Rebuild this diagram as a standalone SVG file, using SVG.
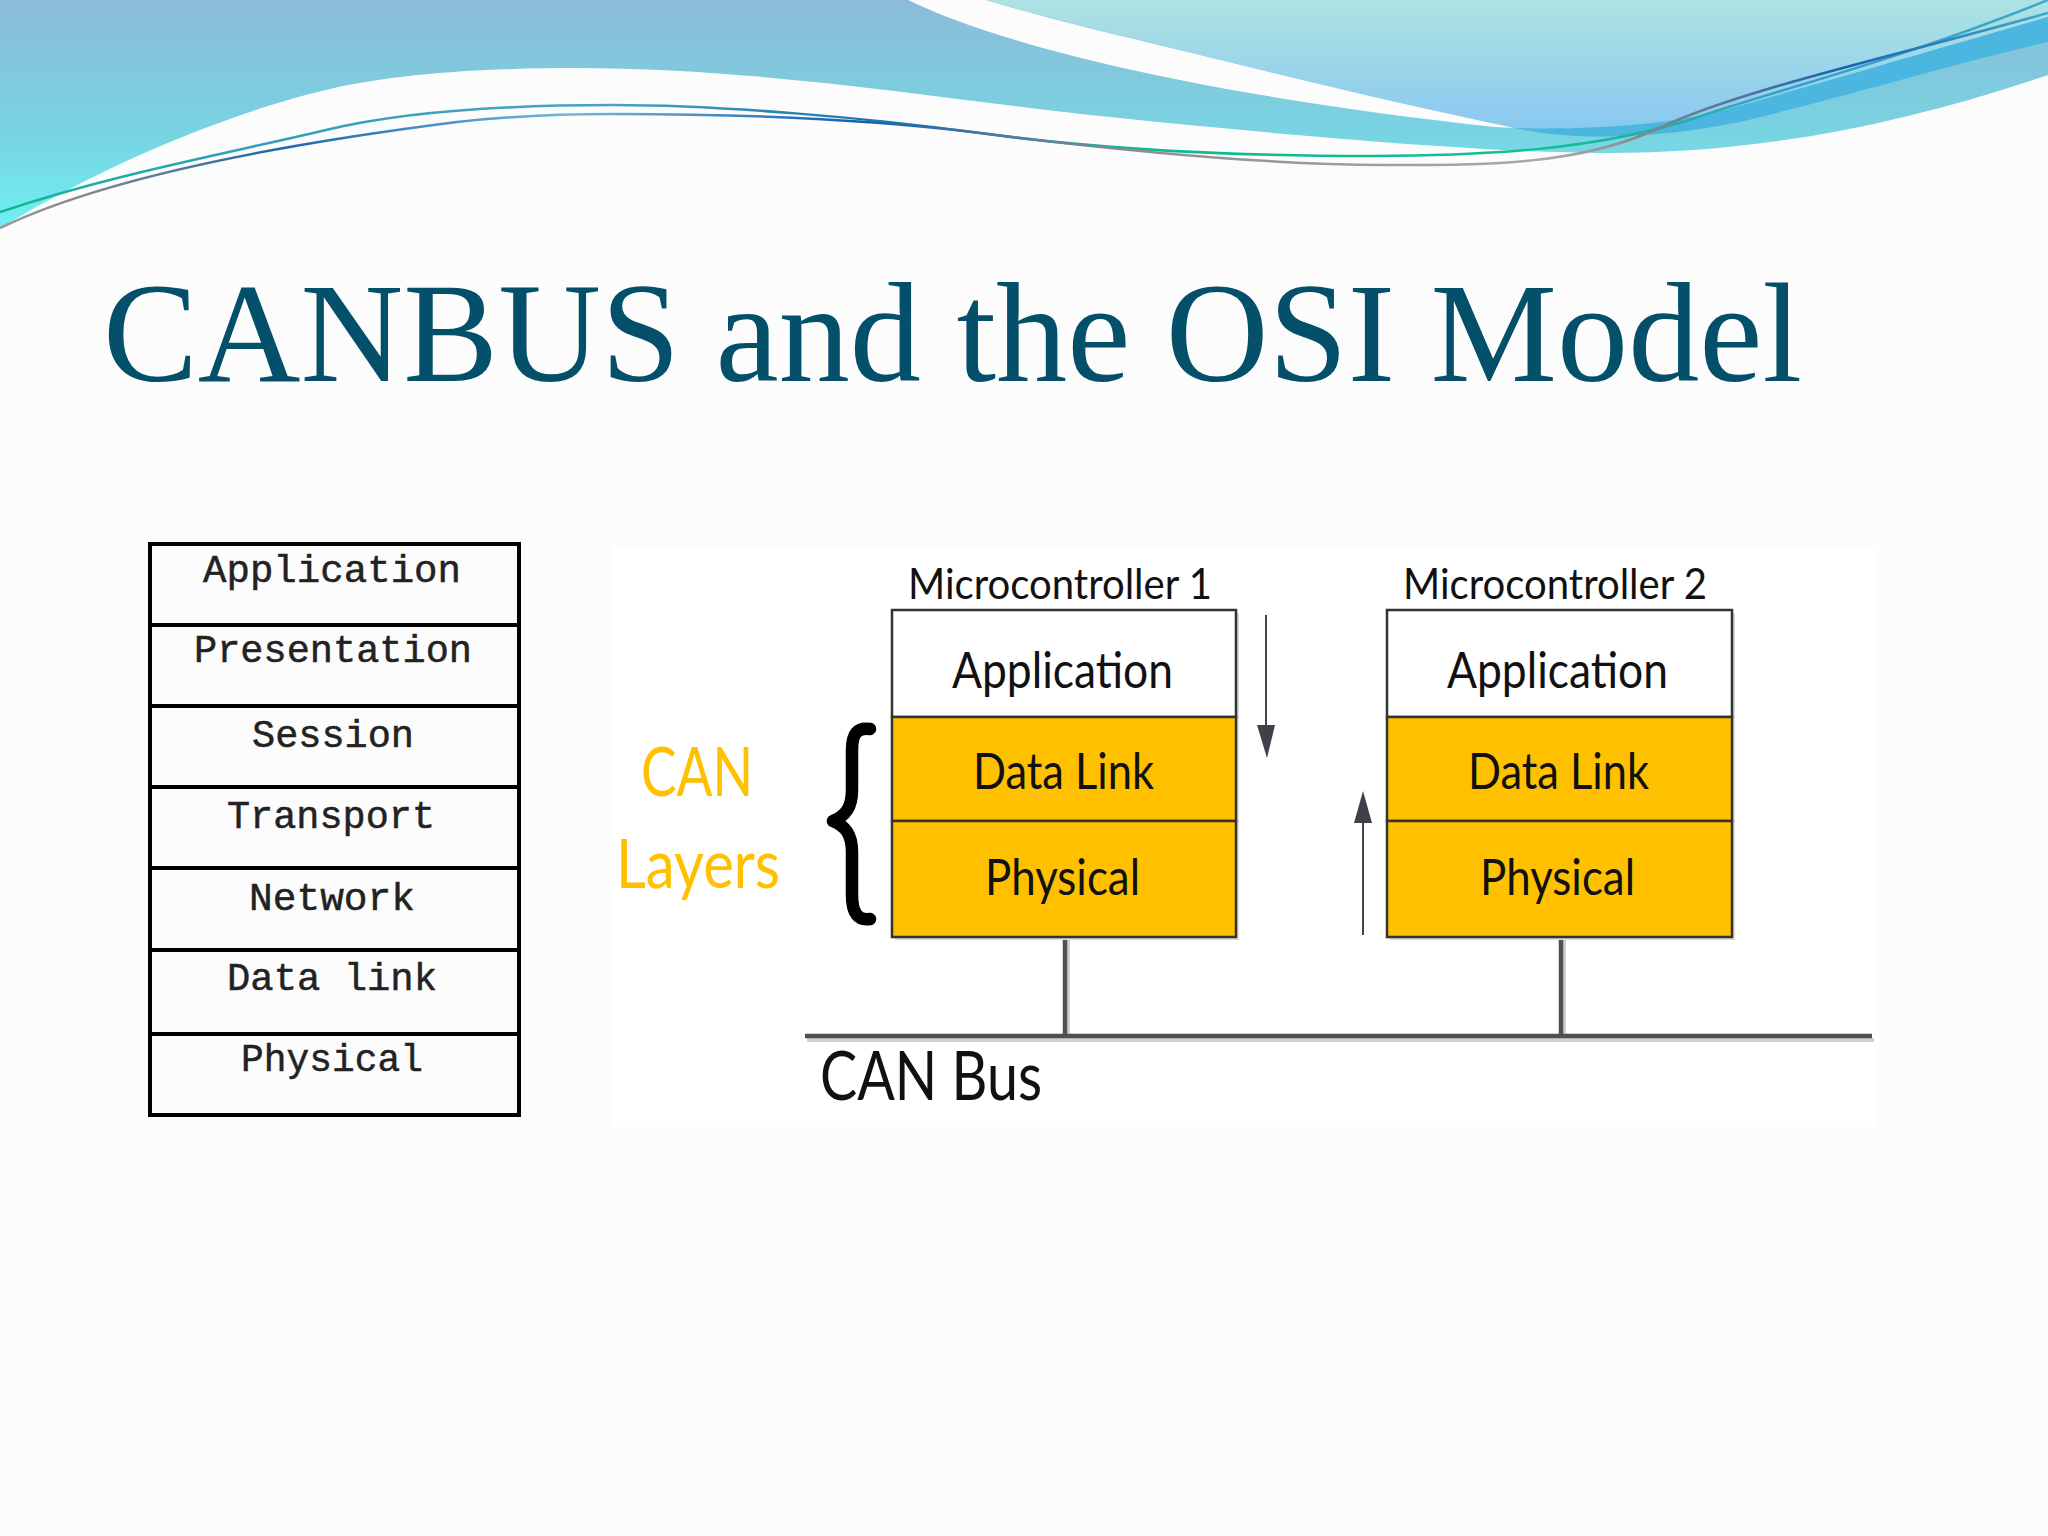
<svg xmlns="http://www.w3.org/2000/svg" width="2048" height="1536" viewBox="0 0 2048 1536">
<defs>
<linearGradient id="gMain2" gradientUnits="userSpaceOnUse" x1="0" y1="0" x2="0" y2="228"><stop offset="0" stop-color="#8bbcd8"/><stop offset="0.6" stop-color="#78d4e2"/><stop offset="1" stop-color="#6ff0f2"/></linearGradient>
<linearGradient id="gLight" gradientUnits="userSpaceOnUse" x1="0" y1="0" x2="0" y2="128"><stop offset="0" stop-color="#ade3e3"/><stop offset="1" stop-color="#8ac8f0"/></linearGradient>
<linearGradient id="sA" gradientUnits="userSpaceOnUse" x1="0" y1="0" x2="2048" y2="0"><stop offset="0" stop-color="#12b896"/><stop offset="0.12" stop-color="#2fa0b8"/><stop offset="0.3" stop-color="#4aa3c4"/><stop offset="0.42" stop-color="#1a78a8"/><stop offset="0.55" stop-color="#10b890"/><stop offset="0.75" stop-color="#10c090"/><stop offset="0.88" stop-color="#30a0c8"/><stop offset="1" stop-color="#40a8c8"/></linearGradient>
<linearGradient id="sB" gradientUnits="userSpaceOnUse" x1="0" y1="0" x2="2048" y2="0"><stop offset="0" stop-color="#999"/><stop offset="0.04" stop-color="#888"/><stop offset="0.14" stop-color="#1a68b0"/><stop offset="0.28" stop-color="#70b8d8"/><stop offset="0.42" stop-color="#1560b0"/><stop offset="0.56" stop-color="#909090"/><stop offset="0.76" stop-color="#aaa"/><stop offset="0.8" stop-color="#888"/><stop offset="0.9" stop-color="#1a60b0"/><stop offset="1" stop-color="#40a8c8"/></linearGradient>
</defs>
<style>
.osi{fill:none;stroke:#000;stroke-width:4}
.mono{font-family:"Liberation Mono",monospace;font-size:39px;fill:#222;stroke:#222;stroke-width:.5}
.cal{font-family:Lato,"Open Sans",sans-serif;fill:#111}
.lay{font-size:51px}
.head{font-size:42px}
.can{font-size:67px;fill:#ffc000}
.box{stroke:#333;stroke-width:2.5}
.shadow{fill:#dcdcdc}
.wire{stroke:#505050;stroke-width:4.5;fill:none}
.wire-shadow{stroke:#d0d0d0;stroke-width:4;fill:none}
.thin{stroke:#444;stroke-width:2;fill:none}
.head-fill{fill:#404048}
</style>
<rect width="2048" height="1536" fill="#fcfcfd"/>
<g id="header-waves">
<path fill="url(#gMain2)" d="M0 0L2048 0L2048 75C1900 125 1760 153 1606 153C1500 153 1300 137 1110 117C960 102 770 68 575 68C500 68 400 72 326 90C250 108 130 150 0 228Z"/>
<path fill="#fcfcfd" d="M908 0C1000 45 1200 95 1495 127L1515 128C1300 75 1120 40 986 0Z"/>
<path fill="url(#gLight)" d="M986 0L2048 0L2048 17C1900 60 1780 95 1724 110C1670 125 1590 130 1515 128C1380 100 1260 70 1110 33C1060 20 1020 10 986 0Z"/>
<path fill="#4bb6e0" d="M1515 128C1590 130 1670 125 1724 110C1780 95 1900 60 2048 17L2048 42C1960 62 1850 95 1780 112C1700 135 1590 145 1515 128Z"/>
<path fill="none" stroke="url(#sA)" stroke-width="2.5" d="M0 212C110 175 220 155 326 130C405 111 510 105 614 105C720 105 870 118 980 133C1110 151 1260 156 1371 156C1480 156 1600 150 1698 117C1780 89 1900 60 2048 0"/>
<path fill="none" stroke="url(#sB)" stroke-width="2.5" d="M0 228C120 170 330 138 457 122C510 116 560 114 614 114C740 114 860 118 980 133C1100 148 1260 165 1384 165C1490 165 1580 165 1659 128C1740 90 1880 60 2048 13"/>
</g>
<text id="title" x="103" y="381" font-family="'Liberation Serif',serif" font-size="142" fill="#04506a" textLength="1699" lengthAdjust="spacingAndGlyphs">CANBUS and the OSI Model</text>
<g id="osi-stack">
<rect class="osi" x="150" y="544" width="369" height="571" fill="#fff"/>
<path class="osi" d="M150 625H519M150 706H519M150 787H519M150 868H519M150 950H519M150 1034H519"/>
<text class="mono" x="203" y="582" textLength="258" lengthAdjust="spacingAndGlyphs">Application</text>
<text class="mono" x="194" y="662" textLength="278" lengthAdjust="spacingAndGlyphs">Presentation</text>
<text class="mono" x="252" y="747" textLength="162" lengthAdjust="spacingAndGlyphs">Session</text>
<text class="mono" x="227" y="828" textLength="208" lengthAdjust="spacingAndGlyphs">Transport</text>
<text class="mono" x="249" y="910" textLength="166" lengthAdjust="spacingAndGlyphs">Network</text>
<text class="mono" x="227" y="990" textLength="210" lengthAdjust="spacingAndGlyphs">Data link</text>
<text class="mono" x="241" y="1071" textLength="182" lengthAdjust="spacingAndGlyphs">Physical</text>
</g>
<rect id="panel" x="613" y="546" width="1265" height="581" fill="#fff"/>
<g id="connectors">
<path class="wire-shadow" d="M807 1040H1874M1068 938V1040M1564 938V1040"/>
<path class="wire" d="M805 1036H1872"/>
<path class="wire" d="M1065 936V1036M1561 936V1036"/>
<path class="thin" d="M1266 615V730"/>
<polygon class="head-fill" points="1257,725 1275,725 1267,758"/>
<path class="thin" d="M1363 935V820"/>
<polygon class="head-fill" points="1354,823 1372,823 1363,791"/>
</g>
<g id="can-layers">
<text class="cal can" x="641" y="796" textLength="112" lengthAdjust="spacingAndGlyphs">CAN</text>
<text class="cal can" x="616" y="888" textLength="164" lengthAdjust="spacingAndGlyphs">Layers</text>
<path fill="none" stroke="#000" stroke-width="12.5" stroke-linecap="round" stroke-linejoin="round" d="M870 729C858 727 852 733 852 750L852 790C852 808 845 816 833 821C845 826 852 834 852 852L852 895C852 913 858 921 870 919"/>
</g>
<g id="microcontroller-1">
<rect class="shadow" x="895" y="613" width="344" height="327"/>
<rect class="box" x="892" y="610" width="344" height="107" fill="#fff"/>
<rect class="box" x="892" y="717" width="344" height="104" fill="#ffc000"/>
<rect class="box" x="892" y="821" width="344" height="116" fill="#ffc000"/>
<text class="cal head" x="908" y="599" textLength="304" lengthAdjust="spacingAndGlyphs">Microcontroller 1</text>
<text class="cal lay" x="952" y="688" textLength="221" lengthAdjust="spacingAndGlyphs">Application</text>
<text class="cal lay" x="973" y="789" textLength="181" lengthAdjust="spacingAndGlyphs">Data Link</text>
<text class="cal lay" x="985" y="895" textLength="155" lengthAdjust="spacingAndGlyphs">Physical</text>
</g>
<g id="microcontroller-2">
<rect class="shadow" x="1390" y="613" width="345" height="327"/>
<rect class="box" x="1387" y="610" width="345" height="107" fill="#fff"/>
<rect class="box" x="1387" y="717" width="345" height="104" fill="#ffc000"/>
<rect class="box" x="1387" y="821" width="345" height="116" fill="#ffc000"/>
<text class="cal head" x="1403" y="599" textLength="304" lengthAdjust="spacingAndGlyphs">Microcontroller 2</text>
<text class="cal lay" x="1447" y="688" textLength="221" lengthAdjust="spacingAndGlyphs">Application</text>
<text class="cal lay" x="1468" y="789" textLength="181" lengthAdjust="spacingAndGlyphs">Data Link</text>
<text class="cal lay" x="1480" y="895" textLength="155" lengthAdjust="spacingAndGlyphs">Physical</text>
</g>
<text id="can-bus" class="cal" x="820" y="1100" font-size="67" textLength="222" lengthAdjust="spacingAndGlyphs">CAN Bus</text>
</svg>
